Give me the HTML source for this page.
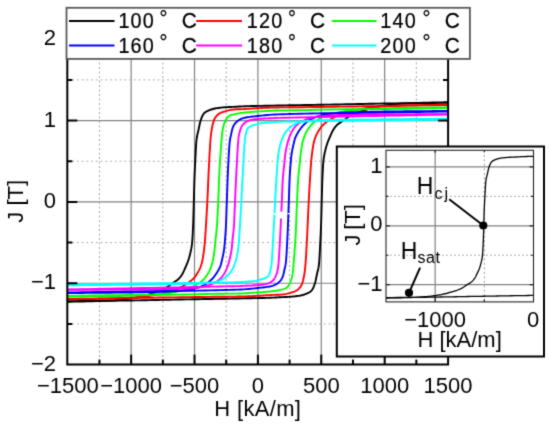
<!DOCTYPE html>
<html><head><meta charset="utf-8"><title>J-H hysteresis loops</title>
<style>html,body{margin:0;padding:0;background:#fff;width:550px;height:427px;overflow:hidden}</style>
</head><body>
<svg width="550" height="427" viewBox="0 0 550 427" style="display:block">
<defs><filter id="soft" x="0" y="0" width="550" height="427" filterUnits="userSpaceOnUse" color-interpolation-filters="sRGB"><feConvolveMatrix order="3" kernelMatrix="0.01917 0.10012 0.01917 0.10012 0.52283 0.10012 0.01917 0.10012 0.01917" edgeMode="duplicate"/></filter></defs>
<g filter="url(#soft)">
<rect x="0" y="0" width="550" height="427" fill="#fff"/>
<defs><clipPath id="cm"><rect x="67.3" y="40" width="380.8" height="324.5"/></clipPath><clipPath id="ci"><rect x="386" y="150.3" width="147.5" height="151.6"/></clipPath></defs>
<line x1="131.15" y1="40" x2="131.15" y2="364.5" stroke="#828282" stroke-width="1.2"/><line x1="194.52" y1="40" x2="194.52" y2="364.5" stroke="#828282" stroke-width="1.2"/><line x1="257.90" y1="40" x2="257.90" y2="364.5" stroke="#828282" stroke-width="1.2"/><line x1="321.27" y1="40" x2="321.27" y2="364.5" stroke="#828282" stroke-width="1.2"/><line x1="384.65" y1="40" x2="384.65" y2="364.5" stroke="#828282" stroke-width="1.2"/><line x1="67.3" y1="283.25" x2="448.1" y2="283.25" stroke="#828282" stroke-width="1.2"/><line x1="67.3" y1="201.90" x2="448.1" y2="201.90" stroke="#828282" stroke-width="1.2"/><line x1="67.3" y1="120.55" x2="448.1" y2="120.55" stroke="#828282" stroke-width="1.2"/><line x1="99.46" y1="40" x2="99.46" y2="364.5" stroke="#a8a8a8" stroke-width="1" stroke-dasharray="2,2.5"/><line x1="162.84" y1="40" x2="162.84" y2="364.5" stroke="#a8a8a8" stroke-width="1" stroke-dasharray="2,2.5"/><line x1="226.21" y1="40" x2="226.21" y2="364.5" stroke="#a8a8a8" stroke-width="1" stroke-dasharray="2,2.5"/><line x1="289.59" y1="40" x2="289.59" y2="364.5" stroke="#a8a8a8" stroke-width="1" stroke-dasharray="2,2.5"/><line x1="352.96" y1="40" x2="352.96" y2="364.5" stroke="#a8a8a8" stroke-width="1" stroke-dasharray="2,2.5"/><line x1="416.34" y1="40" x2="416.34" y2="364.5" stroke="#a8a8a8" stroke-width="1" stroke-dasharray="2,2.5"/><line x1="67.3" y1="323.93" x2="448.1" y2="323.93" stroke="#b0b0b0" stroke-width="1" stroke-dasharray="2,2.75"/><line x1="67.3" y1="242.57" x2="448.1" y2="242.57" stroke="#b0b0b0" stroke-width="1" stroke-dasharray="2,2.75"/><line x1="67.3" y1="161.23" x2="448.1" y2="161.23" stroke="#b0b0b0" stroke-width="1" stroke-dasharray="2,2.75"/><line x1="67.3" y1="79.88" x2="448.1" y2="79.88" stroke="#b0b0b0" stroke-width="1" stroke-dasharray="2,2.75"/>
<g clip-path="url(#cm)" fill="none" stroke-width="1.9" stroke-linejoin="round">
<polyline stroke="#000000" points="448.40,102.80 444.47,102.84 439.04,102.89 432.55,102.96 425.45,103.03 418.20,103.11 411.24,103.18 405.02,103.24 400.00,103.30 396.21,103.35 393.24,103.38 390.86,103.41 388.85,103.44 386.98,103.47 385.04,103.51 382.78,103.55 380.00,103.60 376.74,103.66 373.25,103.73 369.57,103.80 365.75,103.88 361.84,103.96 357.88,104.04 353.91,104.12 350.00,104.20 346.07,104.28 342.05,104.35 337.97,104.43 333.88,104.51 329.79,104.58 325.77,104.66 321.82,104.73 318.00,104.80 314.34,104.87 310.81,104.93 307.38,104.99 304.00,105.05 300.62,105.11 297.19,105.17 293.66,105.23 290.00,105.30 286.05,105.37 281.81,105.45 277.41,105.53 273.00,105.61 268.71,105.69 264.69,105.77 261.07,105.84 258.00,105.90 255.54,105.95 253.57,105.99 251.99,106.02 250.69,106.05 249.55,106.08 248.46,106.11 247.32,106.15 246.00,106.20 244.57,106.26 243.16,106.33 241.76,106.41 240.38,106.49 239.01,106.57 237.66,106.65 236.32,106.73 235.00,106.80 233.70,106.86 232.43,106.92 231.18,106.96 229.94,107.01 228.71,107.07 227.48,107.13 226.24,107.20 225.00,107.30 223.73,107.41 222.43,107.53 221.12,107.65 219.81,107.79 218.53,107.94 217.29,108.11 216.11,108.29 215.00,108.50 213.96,108.73 212.98,108.98 212.05,109.24 211.16,109.52 210.31,109.82 209.50,110.14 208.73,110.46 208.00,110.80 207.31,111.13 206.66,111.45 206.06,111.77 205.50,112.11 204.97,112.48 204.46,112.91 203.97,113.41 203.50,114.00 203.05,114.68 202.62,115.44 202.22,116.26 201.84,117.14 201.49,118.06 201.14,119.02 200.82,120.00 200.50,121.00 200.20,122.02 199.93,123.09 199.68,124.18 199.44,125.31 199.21,126.46 198.98,127.63 198.74,128.81 198.50,130.00 198.24,131.13 197.98,132.20 197.71,133.24 197.45,134.31 197.19,135.47 196.94,136.77 196.71,138.26 196.50,140.00 196.31,142.02 196.14,144.30 195.98,146.77 195.83,149.38 195.69,152.06 195.56,154.77 195.43,157.43 195.30,160.00 195.17,162.49 195.05,164.95 194.93,167.41 194.81,169.88 194.70,172.35 194.60,174.86 194.50,177.40 194.40,180.00 194.31,182.68 194.23,185.45 194.15,188.28 194.07,191.12 194.00,193.96 193.94,196.73 193.87,199.43 193.80,202.00 193.73,204.48 193.67,206.92 193.61,209.31 193.54,211.62 193.48,213.87 193.42,216.02 193.36,218.06 193.30,220.00 193.24,221.79 193.18,223.45 193.12,224.98 193.06,226.44 193.00,227.84 192.94,229.21 192.87,230.59 192.80,232.00 192.72,233.45 192.65,234.91 192.57,236.37 192.49,237.81 192.40,239.21 192.31,240.55 192.21,241.82 192.10,243.00 191.98,244.07 191.86,245.05 191.73,245.96 191.59,246.81 191.45,247.62 191.31,248.41 191.15,249.20 191.00,250.00 190.84,250.80 190.68,251.58 190.51,252.35 190.34,253.09 190.16,253.83 189.98,254.56 189.79,255.28 189.60,256.00 189.41,256.71 189.21,257.41 189.01,258.10 188.81,258.78 188.59,259.46 188.37,260.14 188.14,260.82 187.90,261.50 187.65,262.18 187.38,262.85 187.11,263.52 186.83,264.19 186.54,264.86 186.24,265.55 185.93,266.26 185.60,267.00 185.27,267.77 184.92,268.58 184.57,269.41 184.21,270.25 183.84,271.09 183.44,271.92 183.03,272.73 182.60,273.50 182.16,274.24 181.71,274.97 181.25,275.68 180.77,276.38 180.26,277.05 179.72,277.72 179.13,278.37 178.50,279.00 177.79,279.62 176.99,280.23 176.13,280.83 175.24,281.41 174.36,281.97 173.51,282.50 172.71,283.02 172.00,283.50 171.39,283.95 170.85,284.36 170.36,284.73 169.91,285.09 169.46,285.44 169.01,285.79 168.53,286.14 168.00,286.50 167.44,286.88 166.89,287.25 166.33,287.62 165.75,288.00 165.14,288.38 164.48,288.75 163.78,289.12 163.00,289.50 162.16,289.88 161.26,290.25 160.31,290.62 159.31,291.00 158.28,291.38 157.21,291.75 156.12,292.12 155.00,292.50 153.85,292.88 152.64,293.27 151.40,293.66 150.12,294.04 148.84,294.43 147.55,294.80 146.26,295.16 145.00,295.50 143.78,295.82 142.62,296.13 141.47,296.43 140.31,296.71 139.12,296.99 137.85,297.26 136.49,297.53 135.00,297.80 133.40,298.07 131.72,298.34 129.96,298.61 128.12,298.87 126.21,299.12 124.22,299.36 122.15,299.59 120.00,299.80 117.82,299.99 115.64,300.17 113.41,300.33 111.09,300.48 108.63,300.61 105.99,300.75 103.13,300.87 100.00,301.00 96.32,301.12 92.01,301.25 87.33,301.36 82.55,301.48 77.92,301.58 73.71,301.67 70.18,301.74 67.60,301.80"/>
<polyline stroke="#000000" points="67.10,301.20 71.03,301.16 76.46,301.11 82.95,301.04 90.05,300.97 97.30,300.89 104.26,300.82 110.48,300.76 115.50,300.70 119.29,300.65 122.26,300.62 124.64,300.59 126.65,300.56 128.52,300.53 130.46,300.49 132.72,300.45 135.50,300.40 138.76,300.34 142.25,300.27 145.93,300.20 149.75,300.12 153.66,300.04 157.62,299.96 161.59,299.88 165.50,299.80 169.43,299.72 173.45,299.65 177.53,299.57 181.62,299.49 185.71,299.42 189.73,299.34 193.68,299.27 197.50,299.20 201.16,299.13 204.69,299.07 208.12,299.01 211.50,298.95 214.88,298.89 218.31,298.83 221.84,298.77 225.50,298.70 229.45,298.63 233.69,298.55 238.09,298.47 242.50,298.39 246.79,298.31 250.81,298.23 254.43,298.16 257.50,298.10 259.96,298.05 261.93,298.01 263.51,297.98 264.81,297.95 265.95,297.92 267.04,297.89 268.18,297.85 269.50,297.80 270.93,297.74 272.34,297.67 273.74,297.59 275.12,297.51 276.49,297.43 277.84,297.35 279.18,297.27 280.50,297.20 281.80,297.14 283.07,297.08 284.32,297.04 285.56,296.99 286.79,296.93 288.02,296.87 289.26,296.80 290.50,296.70 291.77,296.59 293.07,296.48 294.38,296.35 295.69,296.21 296.97,296.06 298.21,295.89 299.39,295.71 300.50,295.50 301.54,295.27 302.52,295.02 303.45,294.76 304.34,294.48 305.19,294.18 306.00,293.86 306.77,293.54 307.50,293.20 308.19,292.87 308.84,292.55 309.44,292.23 310.00,291.89 310.53,291.52 311.04,291.09 311.53,290.59 312.00,290.00 312.45,289.32 312.88,288.56 313.28,287.74 313.66,286.86 314.01,285.94 314.36,284.98 314.68,284.00 315.00,283.00 315.30,281.98 315.57,280.91 315.82,279.82 316.06,278.69 316.29,277.54 316.52,276.37 316.76,275.19 317.00,274.00 317.26,272.87 317.52,271.80 317.79,270.76 318.05,269.69 318.31,268.53 318.56,267.23 318.79,265.74 319.00,264.00 319.19,261.98 319.36,259.70 319.52,257.23 319.67,254.62 319.81,251.94 319.94,249.23 320.07,246.57 320.20,244.00 320.33,241.51 320.45,239.05 320.57,236.59 320.69,234.12 320.80,231.65 320.90,229.14 321.00,226.60 321.10,224.00 321.19,221.32 321.27,218.55 321.35,215.72 321.43,212.88 321.50,210.04 321.56,207.27 321.63,204.57 321.70,202.00 321.77,199.52 321.83,197.08 321.89,194.69 321.96,192.38 322.02,190.13 322.08,187.98 322.14,185.94 322.20,184.00 322.26,182.21 322.32,180.55 322.38,179.02 322.44,177.56 322.50,176.16 322.56,174.79 322.63,173.41 322.70,172.00 322.78,170.55 322.85,169.09 322.93,167.63 323.01,166.19 323.10,164.79 323.19,163.45 323.29,162.18 323.40,161.00 323.52,159.93 323.64,158.95 323.77,158.04 323.91,157.19 324.05,156.38 324.19,155.59 324.35,154.80 324.50,154.00 324.66,153.20 324.82,152.42 324.99,151.65 325.16,150.91 325.34,150.17 325.52,149.44 325.71,148.72 325.90,148.00 326.09,147.29 326.29,146.59 326.49,145.90 326.69,145.22 326.91,144.54 327.13,143.86 327.36,143.18 327.60,142.50 327.85,141.82 328.12,141.15 328.39,140.48 328.67,139.81 328.96,139.14 329.26,138.45 329.57,137.74 329.90,137.00 330.23,136.23 330.58,135.42 330.93,134.59 331.29,133.75 331.66,132.91 332.06,132.08 332.47,131.27 332.90,130.50 333.34,129.76 333.79,129.03 334.25,128.32 334.73,127.62 335.24,126.95 335.78,126.28 336.37,125.63 337.00,125.00 337.71,124.38 338.51,123.77 339.37,123.17 340.26,122.59 341.14,122.03 341.99,121.50 342.79,120.98 343.50,120.50 344.11,120.05 344.65,119.64 345.14,119.27 345.59,118.91 346.04,118.56 346.49,118.21 346.97,117.86 347.50,117.50 348.06,117.12 348.61,116.75 349.17,116.38 349.75,116.00 350.36,115.62 351.02,115.25 351.72,114.88 352.50,114.50 353.34,114.12 354.24,113.75 355.19,113.38 356.19,113.00 357.22,112.62 358.29,112.25 359.38,111.88 360.50,111.50 361.65,111.12 362.86,110.73 364.10,110.34 365.38,109.96 366.66,109.57 367.95,109.20 369.24,108.84 370.50,108.50 371.72,108.18 372.88,107.87 374.03,107.57 375.19,107.29 376.38,107.01 377.65,106.74 379.01,106.47 380.50,106.20 382.10,105.93 383.78,105.66 385.54,105.39 387.38,105.13 389.29,104.88 391.28,104.64 393.35,104.41 395.50,104.20 397.68,104.01 399.86,103.83 402.09,103.67 404.41,103.52 406.87,103.39 409.51,103.25 412.37,103.13 415.50,103.00 419.18,102.88 423.49,102.75 428.17,102.64 432.95,102.52 437.58,102.42 441.79,102.33 445.32,102.26 447.90,102.20"/>
<polyline stroke="#ff0000" points="448.40,105.00 442.84,105.08 435.14,105.19 425.94,105.32 415.89,105.47 405.62,105.62 395.79,105.76 387.04,105.89 380.00,106.00 374.81,106.09 370.90,106.16 367.90,106.22 365.41,106.27 363.06,106.32 360.47,106.37 357.24,106.43 353.00,106.50 347.61,106.58 341.38,106.67 334.58,106.77 327.50,106.86 320.42,106.96 313.62,107.05 307.39,107.13 302.00,107.20 297.41,107.25 293.33,107.29 289.68,107.32 286.38,107.35 283.34,107.38 280.48,107.41 277.73,107.45 275.00,107.50 272.37,107.57 269.95,107.64 267.72,107.73 265.62,107.82 263.64,107.91 261.73,108.01 259.87,108.10 258.00,108.20 256.18,108.30 254.45,108.40 252.79,108.50 251.19,108.61 249.63,108.71 248.09,108.81 246.55,108.91 245.00,109.00 243.42,109.08 241.84,109.14 240.25,109.19 238.69,109.24 237.16,109.30 235.70,109.38 234.30,109.47 233.00,109.60 231.79,109.75 230.67,109.93 229.62,110.12 228.62,110.33 227.68,110.56 226.77,110.79 225.88,111.04 225.00,111.30 224.14,111.56 223.32,111.81 222.54,112.06 221.78,112.33 221.05,112.63 220.35,112.97 219.66,113.35 219.00,113.80 218.35,114.29 217.72,114.82 217.11,115.39 216.53,115.99 215.98,116.65 215.45,117.37 214.96,118.15 214.50,119.00 214.08,119.92 213.71,120.91 213.37,121.96 213.06,123.08 212.78,124.24 212.51,125.45 212.25,126.71 212.00,128.00 211.76,129.27 211.55,130.48 211.36,131.71 211.19,133.00 211.02,134.42 210.85,136.02 210.68,137.86 210.50,140.00 210.31,142.42 210.13,145.05 209.95,147.90 209.76,150.94 209.58,154.17 209.39,157.60 209.20,161.21 209.00,165.00 208.79,169.15 208.58,173.73 208.36,178.61 208.14,183.62 207.92,188.62 207.70,193.45 207.49,197.96 207.30,202.00 207.12,205.60 206.94,208.92 206.77,212.00 206.61,214.88 206.45,217.58 206.29,220.14 206.15,222.60 206.00,225.00 205.86,227.29 205.73,229.43 205.60,231.43 205.48,233.31 205.36,235.09 205.24,236.79 205.12,238.42 205.00,240.00 204.88,241.49 204.76,242.85 204.65,244.12 204.53,245.31 204.41,246.47 204.29,247.62 204.15,248.78 204.00,250.00 203.84,251.27 203.67,252.57 203.50,253.88 203.31,255.19 203.12,256.47 202.92,257.71 202.71,258.89 202.50,260.00 202.28,261.03 202.06,261.98 201.83,262.89 201.59,263.75 201.35,264.58 201.08,265.39 200.80,266.19 200.50,267.00 200.18,267.80 199.83,268.59 199.47,269.37 199.09,270.12 198.71,270.87 198.31,271.59 197.91,272.30 197.50,273.00 197.09,273.68 196.67,274.36 196.25,275.01 195.81,275.66 195.37,276.28 194.92,276.88 194.46,277.45 194.00,278.00 193.53,278.51 193.06,278.98 192.58,279.42 192.09,279.84 191.60,280.25 191.08,280.66 190.55,281.07 190.00,281.50 189.44,281.94 188.87,282.38 188.29,282.81 187.69,283.25 187.07,283.69 186.41,284.12 185.73,284.56 185.00,285.00 184.23,285.44 183.41,285.89 182.57,286.33 181.69,286.78 180.79,287.22 179.87,287.66 178.94,288.09 178.00,288.50 177.06,288.90 176.12,289.30 175.16,289.68 174.19,290.06 173.19,290.43 172.16,290.80 171.10,291.15 170.00,291.50 168.88,291.84 167.76,292.16 166.62,292.47 165.44,292.78 164.20,293.08 162.90,293.39 161.50,293.69 160.00,294.00 158.40,294.32 156.72,294.65 154.96,294.98 153.12,295.31 151.21,295.64 149.22,295.95 147.15,296.24 145.00,296.50 142.77,296.74 140.47,296.96 138.09,297.17 135.62,297.36 133.09,297.53 130.47,297.70 127.77,297.85 125.00,298.00 122.16,298.14 119.28,298.26 116.32,298.36 113.27,298.46 110.14,298.55 106.89,298.64 103.51,298.72 100.00,298.80 96.08,298.88 91.66,298.96 86.97,299.03 82.24,299.10 77.70,299.16 73.60,299.22 70.15,299.26 67.60,299.30"/>
<polyline stroke="#ff0000" points="67.60,299.00 73.16,298.92 80.86,298.81 90.06,298.68 100.11,298.53 110.38,298.38 120.21,298.24 128.96,298.11 136.00,298.00 141.19,297.91 145.10,297.84 148.10,297.78 150.59,297.73 152.94,297.68 155.53,297.63 158.76,297.57 163.00,297.50 168.39,297.42 174.62,297.33 181.42,297.23 188.50,297.14 195.58,297.04 202.38,296.95 208.61,296.87 214.00,296.80 218.59,296.75 222.67,296.71 226.32,296.68 229.62,296.65 232.66,296.62 235.52,296.59 238.27,296.55 241.00,296.50 243.63,296.43 246.05,296.36 248.28,296.27 250.38,296.18 252.36,296.09 254.27,295.99 256.13,295.90 258.00,295.80 259.82,295.70 261.55,295.60 263.21,295.50 264.81,295.39 266.37,295.29 267.91,295.19 269.45,295.09 271.00,295.00 272.58,294.92 274.16,294.86 275.75,294.81 277.31,294.76 278.84,294.70 280.30,294.62 281.70,294.53 283.00,294.40 284.21,294.25 285.33,294.07 286.38,293.88 287.38,293.67 288.32,293.44 289.23,293.21 290.12,292.96 291.00,292.70 291.86,292.44 292.68,292.19 293.46,291.94 294.22,291.67 294.95,291.37 295.65,291.03 296.34,290.65 297.00,290.20 297.65,289.71 298.28,289.18 298.89,288.61 299.47,288.01 300.02,287.35 300.55,286.63 301.04,285.85 301.50,285.00 301.92,284.08 302.29,283.09 302.63,282.04 302.94,280.93 303.22,279.76 303.49,278.55 303.75,277.29 304.00,276.00 304.24,274.73 304.45,273.52 304.64,272.29 304.81,271.00 304.98,269.58 305.15,267.98 305.32,266.14 305.50,264.00 305.69,261.58 305.87,258.95 306.05,256.10 306.24,253.06 306.42,249.83 306.61,246.40 306.80,242.79 307.00,239.00 307.21,234.85 307.42,230.27 307.64,225.39 307.86,220.38 308.08,215.38 308.30,210.55 308.51,206.04 308.70,202.00 308.88,198.40 309.06,195.08 309.23,192.00 309.39,189.12 309.55,186.42 309.71,183.86 309.85,181.40 310.00,179.00 310.14,176.71 310.27,174.57 310.40,172.57 310.52,170.69 310.64,168.91 310.76,167.21 310.88,165.58 311.00,164.00 311.12,162.51 311.24,161.15 311.35,159.88 311.47,158.69 311.59,157.53 311.71,156.38 311.85,155.22 312.00,154.00 312.16,152.73 312.33,151.43 312.50,150.12 312.69,148.81 312.88,147.53 313.08,146.29 313.29,145.11 313.50,144.00 313.72,142.97 313.94,142.02 314.17,141.11 314.41,140.25 314.65,139.42 314.92,138.61 315.20,137.81 315.50,137.00 315.82,136.20 316.17,135.41 316.53,134.63 316.91,133.88 317.29,133.13 317.69,132.41 318.09,131.70 318.50,131.00 318.91,130.32 319.33,129.64 319.75,128.99 320.19,128.34 320.63,127.72 321.08,127.12 321.54,126.55 322.00,126.00 322.47,125.49 322.94,125.02 323.42,124.58 323.91,124.16 324.40,123.75 324.92,123.34 325.45,122.93 326.00,122.50 326.56,122.06 327.13,121.62 327.71,121.19 328.31,120.75 328.93,120.31 329.59,119.88 330.27,119.44 331.00,119.00 331.77,118.56 332.59,118.11 333.43,117.67 334.31,117.22 335.21,116.78 336.13,116.34 337.06,115.91 338.00,115.50 338.94,115.10 339.88,114.70 340.84,114.32 341.81,113.94 342.81,113.57 343.84,113.20 344.90,112.85 346.00,112.50 347.12,112.16 348.24,111.84 349.38,111.53 350.56,111.22 351.80,110.92 353.10,110.61 354.50,110.31 356.00,110.00 357.60,109.68 359.28,109.35 361.04,109.02 362.88,108.69 364.79,108.36 366.78,108.05 368.85,107.76 371.00,107.50 373.23,107.26 375.53,107.04 377.91,106.83 380.38,106.64 382.91,106.47 385.53,106.30 388.23,106.15 391.00,106.00 393.84,105.86 396.73,105.74 399.68,105.64 402.73,105.54 405.86,105.45 409.11,105.36 412.49,105.28 416.00,105.20 419.92,105.12 424.34,105.04 429.03,104.97 433.76,104.90 438.30,104.84 442.40,104.78 445.85,104.74 448.40,104.70"/>
<polyline stroke="#00ff00" points="448.40,108.00 444.71,108.06 439.86,108.15 434.08,108.25 427.64,108.37 420.76,108.49 413.70,108.60 406.70,108.71 400.00,108.80 393.43,108.87 386.67,108.93 379.77,108.99 372.79,109.04 365.77,109.09 358.76,109.15 351.82,109.22 345.00,109.30 338.03,109.41 330.77,109.53 323.40,109.67 316.12,109.82 309.15,109.96 302.67,110.09 296.89,110.21 292.00,110.30 288.15,110.36 285.22,110.39 282.99,110.40 281.25,110.40 279.79,110.40 278.41,110.41 276.88,110.44 275.00,110.50 272.85,110.59 270.66,110.69 268.45,110.82 266.25,110.95 264.08,111.09 261.97,111.23 259.93,111.37 258.00,111.50 256.14,111.62 254.33,111.75 252.57,111.88 250.88,112.00 249.26,112.12 247.73,112.25 246.31,112.38 245.00,112.50 243.84,112.62 242.85,112.73 241.98,112.83 241.19,112.94 240.43,113.05 239.68,113.18 238.88,113.33 238.00,113.50 237.02,113.69 235.98,113.88 234.90,114.09 233.81,114.31 232.75,114.56 231.74,114.84 230.82,115.15 230.00,115.50 229.30,115.87 228.70,116.25 228.16,116.66 227.69,117.09 227.25,117.58 226.84,118.14 226.42,118.77 226.00,119.50 225.57,120.32 225.14,121.20 224.74,122.16 224.34,123.19 223.97,124.29 223.62,125.45 223.30,126.69 223.00,128.00 222.74,129.30 222.53,130.56 222.35,131.84 222.19,133.22 222.03,134.76 221.88,136.52 221.70,138.58 221.50,141.00 221.27,143.84 221.02,147.05 220.76,150.57 220.49,154.31 220.22,158.20 219.96,162.16 219.72,166.12 219.50,170.00 219.30,173.92 219.12,178.00 218.96,182.18 218.80,186.38 218.65,190.53 218.50,194.56 218.35,198.41 218.20,202.00 218.05,205.36 217.90,208.57 217.76,211.64 217.61,214.56 217.47,217.36 217.32,220.02 217.16,222.57 217.00,225.00 216.82,227.29 216.63,229.43 216.44,231.43 216.24,233.31 216.04,235.09 215.85,236.79 215.67,238.42 215.50,240.00 215.35,241.49 215.23,242.85 215.11,244.12 215.00,245.31 214.89,246.47 214.77,247.62 214.65,248.78 214.50,250.00 214.34,251.27 214.17,252.57 214.00,253.88 213.81,255.19 213.62,256.47 213.42,257.71 213.21,258.89 213.00,260.00 212.78,261.02 212.56,261.97 212.33,262.87 212.09,263.72 211.85,264.54 211.58,265.36 211.30,266.17 211.00,267.00 210.69,267.84 210.37,268.66 210.04,269.47 209.69,270.28 209.32,271.08 208.91,271.89 208.48,272.69 208.00,273.50 207.48,274.33 206.91,275.17 206.32,276.03 205.69,276.88 205.04,277.71 204.37,278.52 203.69,279.28 203.00,280.00 202.30,280.67 201.59,281.29 200.87,281.88 200.12,282.44 199.37,282.97 198.59,283.49 197.80,284.00 197.00,284.50 196.19,284.99 195.39,285.46 194.58,285.91 193.75,286.34 192.89,286.77 191.98,287.18 191.03,287.59 190.00,288.00 188.93,288.40 187.83,288.80 186.69,289.18 185.50,289.56 184.25,289.93 182.92,290.30 181.51,290.65 180.00,291.00 178.40,291.34 176.72,291.68 174.96,292.02 173.12,292.34 171.21,292.66 169.22,292.96 167.15,293.24 165.00,293.50 162.77,293.74 160.47,293.96 158.09,294.16 155.62,294.34 153.09,294.52 150.47,294.68 147.77,294.84 145.00,295.00 142.30,295.15 139.74,295.29 137.20,295.42 134.53,295.55 131.60,295.67 128.29,295.78 124.47,295.89 120.00,296.00 114.40,296.11 107.60,296.21 100.05,296.32 92.24,296.41 84.62,296.50 77.66,296.58 71.83,296.65 67.60,296.70"/>
<polyline stroke="#00ff00" points="66.80,296.00 70.49,295.94 75.34,295.85 81.12,295.75 87.56,295.63 94.44,295.51 101.50,295.40 108.50,295.29 115.20,295.20 121.77,295.13 128.53,295.07 135.43,295.01 142.41,294.96 149.43,294.91 156.44,294.85 163.38,294.78 170.20,294.70 177.17,294.59 184.43,294.47 191.80,294.33 199.08,294.18 206.05,294.04 212.53,293.91 218.31,293.79 223.20,293.70 227.05,293.64 229.98,293.61 232.21,293.60 233.95,293.60 235.41,293.60 236.79,293.59 238.32,293.56 240.20,293.50 242.35,293.41 244.54,293.31 246.75,293.18 248.95,293.05 251.12,292.91 253.23,292.77 255.27,292.63 257.20,292.50 259.06,292.38 260.87,292.25 262.63,292.12 264.33,292.00 265.94,291.88 267.47,291.75 268.89,291.62 270.20,291.50 271.36,291.38 272.35,291.27 273.22,291.17 274.01,291.06 274.77,290.95 275.52,290.82 276.32,290.67 277.20,290.50 278.18,290.31 279.22,290.12 280.30,289.91 281.39,289.69 282.45,289.44 283.46,289.16 284.38,288.85 285.20,288.50 285.90,288.13 286.50,287.75 287.04,287.34 287.51,286.91 287.95,286.42 288.36,285.86 288.78,285.23 289.20,284.50 289.63,283.68 290.06,282.80 290.46,281.84 290.86,280.81 291.23,279.71 291.58,278.55 291.90,277.31 292.20,276.00 292.46,274.70 292.67,273.44 292.85,272.16 293.01,270.78 293.17,269.24 293.33,267.48 293.50,265.42 293.70,263.00 293.93,260.16 294.18,256.95 294.44,253.43 294.71,249.69 294.98,245.80 295.24,241.84 295.48,237.88 295.70,234.00 295.90,230.08 296.08,226.00 296.24,221.82 296.40,217.62 296.55,213.47 296.70,209.44 296.85,205.59 297.00,202.00 297.15,198.64 297.30,195.43 297.44,192.36 297.59,189.44 297.73,186.64 297.88,183.98 298.04,181.43 298.20,179.00 298.38,176.71 298.57,174.57 298.76,172.57 298.96,170.69 299.16,168.91 299.35,167.21 299.53,165.58 299.70,164.00 299.85,162.51 299.97,161.15 300.09,159.88 300.20,158.69 300.31,157.53 300.43,156.38 300.55,155.22 300.70,154.00 300.86,152.73 301.03,151.43 301.20,150.12 301.39,148.81 301.58,147.53 301.78,146.29 301.99,145.11 302.20,144.00 302.42,142.98 302.64,142.03 302.87,141.13 303.11,140.28 303.35,139.46 303.62,138.64 303.90,137.83 304.20,137.00 304.51,136.16 304.83,135.34 305.16,134.53 305.51,133.72 305.88,132.92 306.29,132.11 306.72,131.31 307.20,130.50 307.72,129.67 308.29,128.83 308.88,127.97 309.51,127.12 310.16,126.29 310.83,125.48 311.51,124.72 312.20,124.00 312.90,123.33 313.61,122.71 314.33,122.12 315.08,121.56 315.83,121.03 316.61,120.51 317.40,120.00 318.20,119.50 319.01,119.01 319.81,118.54 320.62,118.09 321.45,117.66 322.31,117.23 323.22,116.82 324.17,116.41 325.20,116.00 326.27,115.60 327.37,115.20 328.51,114.82 329.70,114.44 330.95,114.07 332.28,113.70 333.69,113.35 335.20,113.00 336.80,112.66 338.48,112.32 340.24,111.98 342.08,111.66 343.99,111.34 345.98,111.04 348.05,110.76 350.20,110.50 352.43,110.26 354.73,110.04 357.11,109.84 359.58,109.66 362.11,109.48 364.73,109.32 367.43,109.16 370.20,109.00 372.90,108.85 375.46,108.71 378.00,108.58 380.68,108.45 383.60,108.33 386.91,108.22 390.73,108.11 395.20,108.00 400.80,107.89 407.60,107.79 415.15,107.68 422.96,107.59 430.58,107.50 437.54,107.42 443.37,107.35 447.60,107.30"/>
<polyline stroke="#0000ff" points="448.40,111.50 444.54,111.56 439.27,111.65 432.99,111.75 426.07,111.87 418.93,111.99 411.94,112.10 405.50,112.21 400.00,112.30 395.57,112.38 391.89,112.44 388.68,112.50 385.66,112.56 382.57,112.61 379.11,112.67 375.01,112.73 370.00,112.80 363.86,112.88 356.75,112.95 348.99,113.03 340.88,113.12 332.71,113.21 324.81,113.30 317.47,113.40 311.00,113.50 305.27,113.61 299.94,113.72 294.98,113.83 290.38,113.95 286.10,114.08 282.12,114.21 278.43,114.35 275.00,114.50 271.93,114.66 269.30,114.84 267.01,115.03 265.00,115.22 263.17,115.42 261.45,115.61 259.76,115.81 258.00,116.00 256.22,116.18 254.51,116.36 252.87,116.54 251.31,116.72 249.84,116.90 248.46,117.09 247.18,117.29 246.00,117.50 244.95,117.72 244.03,117.94 243.22,118.17 242.50,118.41 241.84,118.65 241.22,118.92 240.61,119.20 240.00,119.50 239.40,119.82 238.84,120.14 238.31,120.49 237.81,120.84 237.34,121.22 236.88,121.62 236.44,122.05 236.00,122.50 235.57,122.97 235.16,123.44 234.76,123.92 234.38,124.44 234.01,124.99 233.66,125.59 233.32,126.26 233.00,127.00 232.70,127.83 232.42,128.73 232.15,129.70 231.91,130.72 231.67,131.77 231.44,132.85 231.22,133.93 231.00,135.00 230.79,135.96 230.59,136.78 230.40,137.55 230.22,138.38 230.04,139.34 229.86,140.53 229.68,142.05 229.50,144.00 229.31,146.40 229.12,149.16 228.92,152.24 228.73,155.56 228.54,159.06 228.35,162.68 228.17,166.35 228.00,170.00 227.83,173.77 227.67,177.79 227.51,181.96 227.36,186.19 227.21,190.40 227.06,194.49 226.93,198.39 226.80,202.00 226.68,205.36 226.58,208.57 226.48,211.64 226.39,214.56 226.30,217.36 226.20,220.02 226.11,222.57 226.00,225.00 225.88,227.29 225.76,229.43 225.64,231.43 225.51,233.31 225.38,235.09 225.25,236.79 225.13,238.42 225.00,240.00 224.88,241.49 224.77,242.85 224.67,244.12 224.56,245.31 224.45,246.47 224.32,247.62 224.17,248.78 224.00,250.00 223.80,251.27 223.57,252.57 223.32,253.88 223.06,255.19 222.79,256.47 222.52,257.71 222.26,258.89 222.00,260.00 221.76,261.02 221.55,261.96 221.34,262.84 221.12,263.69 220.90,264.51 220.64,265.32 220.35,266.15 220.00,267.00 219.60,267.89 219.14,268.80 218.65,269.71 218.12,270.62 217.59,271.52 217.05,272.39 216.51,273.22 216.00,274.00 215.51,274.72 215.05,275.39 214.59,276.02 214.12,276.62 213.65,277.21 213.14,277.80 212.60,278.39 212.00,279.00 211.36,279.64 210.69,280.29 209.98,280.94 209.25,281.59 208.48,282.23 207.69,282.86 206.86,283.45 206.00,284.00 205.11,284.52 204.19,285.00 203.23,285.47 202.25,285.91 201.23,286.33 200.19,286.73 199.11,287.12 198.00,287.50 196.90,287.87 195.83,288.22 194.75,288.55 193.62,288.88 192.42,289.18 191.11,289.47 189.65,289.74 188.00,290.00 186.21,290.24 184.34,290.46 182.36,290.67 180.25,290.86 177.98,291.03 175.53,291.20 172.88,291.35 170.00,291.50 166.89,291.64 163.58,291.76 160.07,291.86 156.38,291.96 152.51,292.05 148.48,292.14 144.31,292.22 140.00,292.30 135.43,292.38 130.52,292.45 125.40,292.52 120.15,292.59 114.88,292.65 109.70,292.70 104.70,292.75 100.00,292.80 95.36,292.84 90.61,292.88 85.87,292.91 81.30,292.93 77.04,292.95 73.24,292.97 70.05,292.99 67.60,293.00"/>
<polyline stroke="#0000ff" points="67.20,292.50 71.06,292.44 76.33,292.35 82.61,292.25 89.53,292.13 96.67,292.01 103.66,291.90 110.10,291.79 115.60,291.70 120.03,291.62 123.71,291.56 126.92,291.50 129.94,291.44 133.03,291.39 136.49,291.33 140.59,291.27 145.60,291.20 151.74,291.12 158.85,291.05 166.61,290.97 174.73,290.88 182.89,290.79 190.79,290.70 198.13,290.60 204.60,290.50 210.33,290.39 215.66,290.28 220.62,290.17 225.23,290.05 229.50,289.92 233.48,289.79 237.17,289.65 240.60,289.50 243.67,289.34 246.30,289.16 248.59,288.97 250.60,288.78 252.43,288.58 254.15,288.39 255.84,288.19 257.60,288.00 259.38,287.82 261.09,287.64 262.73,287.46 264.29,287.28 265.76,287.10 267.14,286.91 268.42,286.71 269.60,286.50 270.65,286.28 271.57,286.06 272.38,285.83 273.10,285.59 273.76,285.35 274.38,285.08 274.99,284.80 275.60,284.50 276.20,284.18 276.76,283.86 277.29,283.51 277.79,283.16 278.26,282.78 278.72,282.38 279.16,281.95 279.60,281.50 280.03,281.03 280.44,280.56 280.84,280.08 281.23,279.56 281.59,279.01 281.94,278.41 282.28,277.74 282.60,277.00 282.90,276.17 283.18,275.27 283.45,274.30 283.69,273.28 283.93,272.23 284.16,271.15 284.38,270.07 284.60,269.00 284.81,268.04 285.01,267.22 285.20,266.45 285.38,265.62 285.56,264.66 285.74,263.47 285.92,261.95 286.10,260.00 286.29,257.60 286.48,254.84 286.68,251.76 286.87,248.44 287.06,244.94 287.25,241.32 287.43,237.65 287.60,234.00 287.77,230.23 287.93,226.21 288.09,222.04 288.24,217.81 288.39,213.60 288.54,209.51 288.67,205.61 288.80,202.00 288.92,198.64 289.02,195.43 289.12,192.36 289.21,189.44 289.30,186.64 289.40,183.98 289.49,181.43 289.60,179.00 289.72,176.71 289.84,174.57 289.96,172.57 290.09,170.69 290.22,168.91 290.35,167.21 290.47,165.58 290.60,164.00 290.72,162.51 290.83,161.15 290.93,159.88 291.04,158.69 291.15,157.53 291.28,156.38 291.43,155.22 291.60,154.00 291.80,152.73 292.03,151.43 292.28,150.12 292.54,148.81 292.81,147.53 293.08,146.29 293.34,145.11 293.60,144.00 293.84,142.98 294.05,142.04 294.26,141.16 294.48,140.31 294.70,139.49 294.96,138.68 295.25,137.85 295.60,137.00 296.00,136.11 296.46,135.20 296.95,134.29 297.48,133.38 298.01,132.48 298.55,131.61 299.09,130.78 299.60,130.00 300.09,129.28 300.55,128.61 301.01,127.98 301.48,127.38 301.95,126.79 302.46,126.20 303.00,125.61 303.60,125.00 304.24,124.36 304.91,123.71 305.62,123.06 306.35,122.41 307.12,121.77 307.91,121.14 308.74,120.55 309.60,120.00 310.49,119.48 311.41,119.00 312.37,118.53 313.35,118.09 314.37,117.67 315.41,117.27 316.49,116.88 317.60,116.50 318.70,116.13 319.77,115.78 320.85,115.45 321.98,115.12 323.18,114.82 324.49,114.53 325.95,114.26 327.60,114.00 329.39,113.76 331.26,113.54 333.24,113.33 335.35,113.14 337.62,112.97 340.07,112.80 342.72,112.65 345.60,112.50 348.71,112.36 352.02,112.24 355.53,112.14 359.23,112.04 363.09,111.95 367.12,111.86 371.29,111.78 375.60,111.70 380.17,111.62 385.08,111.55 390.20,111.48 395.45,111.41 400.72,111.35 405.90,111.30 410.90,111.25 415.60,111.20 420.24,111.16 424.99,111.12 429.73,111.09 434.30,111.07 438.56,111.05 442.36,111.03 445.55,111.01 448.00,111.00"/>
<polyline stroke="#ff00ff" points="448.40,114.50 444.81,114.58 440.21,114.67 434.74,114.79 428.57,114.92 421.86,115.06 414.75,115.21 407.41,115.35 400.00,115.50 392.12,115.65 383.46,115.81 374.28,115.98 364.85,116.15 355.44,116.32 346.32,116.49 337.75,116.65 330.00,116.80 322.85,116.94 315.95,117.09 309.37,117.23 303.19,117.37 297.49,117.50 292.34,117.61 287.82,117.72 284.00,117.80 281.16,117.86 279.34,117.89 278.27,117.90 277.69,117.90 277.33,117.90 276.95,117.91 276.25,117.94 275.00,118.00 273.20,118.08 271.12,118.18 268.86,118.29 266.50,118.42 264.14,118.55 261.88,118.70 259.80,118.85 258.00,119.00 256.46,119.15 255.09,119.30 253.86,119.46 252.75,119.62 251.73,119.81 250.78,120.01 249.88,120.24 249.00,120.50 248.17,120.79 247.42,121.11 246.74,121.45 246.12,121.81 245.55,122.20 245.02,122.61 244.50,123.04 244.00,123.50 243.52,123.97 243.09,124.46 242.68,124.97 242.31,125.50 241.96,126.06 241.63,126.66 241.31,127.31 241.00,128.00 240.70,128.74 240.41,129.53 240.13,130.35 239.88,131.22 239.63,132.12 239.41,133.05 239.20,134.01 239.00,135.00 238.83,135.91 238.69,136.71 238.57,137.48 238.47,138.31 238.37,139.29 238.26,140.51 238.14,142.05 238.00,144.00 237.84,146.40 237.66,149.16 237.47,152.24 237.28,155.56 237.08,159.06 236.89,162.68 236.69,166.35 236.50,170.00 236.31,173.77 236.11,177.79 235.92,181.96 235.72,186.19 235.53,190.40 235.34,194.49 235.16,198.39 235.00,202.00 234.85,205.36 234.73,208.57 234.61,211.64 234.50,214.56 234.39,217.36 234.27,220.02 234.15,222.57 234.00,225.00 233.83,227.29 233.65,229.43 233.45,231.43 233.25,233.31 233.05,235.09 232.85,236.79 232.67,238.42 232.50,240.00 232.36,241.49 232.24,242.85 232.13,244.12 232.03,245.31 231.93,246.47 231.81,247.62 231.67,248.78 231.50,250.00 231.30,251.26 231.08,252.55 230.85,253.84 230.59,255.12 230.33,256.40 230.06,257.64 229.78,258.85 229.50,260.00 229.21,261.11 228.92,262.19 228.62,263.23 228.31,264.25 228.00,265.23 227.67,266.19 227.34,267.11 227.00,268.00 226.66,268.85 226.31,269.66 225.96,270.44 225.59,271.19 225.22,271.91 224.83,272.62 224.43,273.31 224.00,274.00 223.56,274.68 223.12,275.34 222.66,275.99 222.19,276.62 221.69,277.24 221.16,277.84 220.60,278.43 220.00,279.00 219.37,279.55 218.71,280.09 218.03,280.60 217.31,281.11 216.56,281.60 215.76,282.07 214.91,282.54 214.00,283.00 213.06,283.45 212.10,283.90 211.11,284.35 210.06,284.77 208.95,285.19 207.74,285.58 206.43,285.95 205.00,286.30 203.51,286.62 202.02,286.92 200.47,287.19 198.81,287.45 196.99,287.69 194.95,287.91 192.63,288.11 190.00,288.30 187.04,288.47 183.79,288.61 180.29,288.74 176.56,288.85 172.64,288.95 168.55,289.04 164.33,289.12 160.00,289.20 155.56,289.28 150.99,289.34 146.28,289.40 141.40,289.44 136.35,289.49 131.11,289.53 125.66,289.56 120.00,289.60 113.69,289.64 106.54,289.67 98.96,289.70 91.30,289.73 83.96,289.75 77.31,289.77 71.73,289.79 67.60,289.80"/>
<polyline stroke="#ff00ff" points="68.40,289.50 71.99,289.42 76.59,289.33 82.06,289.21 88.22,289.08 94.94,288.94 102.05,288.79 109.39,288.65 116.80,288.50 124.68,288.35 133.34,288.19 142.52,288.02 151.95,287.85 161.36,287.68 170.48,287.51 179.05,287.35 186.80,287.20 193.95,287.06 200.85,286.91 207.43,286.77 213.61,286.63 219.31,286.50 224.46,286.39 228.98,286.28 232.80,286.20 235.64,286.14 237.46,286.11 238.53,286.10 239.11,286.10 239.47,286.10 239.85,286.09 240.55,286.06 241.80,286.00 243.60,285.92 245.67,285.82 247.94,285.71 250.30,285.58 252.66,285.45 254.92,285.30 257.00,285.15 258.80,285.00 260.34,284.85 261.71,284.70 262.94,284.54 264.05,284.38 265.07,284.19 266.02,283.99 266.92,283.76 267.80,283.50 268.63,283.21 269.38,282.89 270.06,282.55 270.67,282.19 271.25,281.80 271.78,281.39 272.30,280.96 272.80,280.50 273.28,280.03 273.71,279.54 274.12,279.03 274.49,278.50 274.84,277.94 275.17,277.34 275.49,276.69 275.80,276.00 276.10,275.26 276.39,274.47 276.67,273.65 276.92,272.78 277.17,271.88 277.39,270.95 277.60,269.99 277.80,269.00 277.97,268.09 278.11,267.29 278.23,266.52 278.33,265.69 278.43,264.71 278.54,263.49 278.66,261.95 278.80,260.00 278.96,257.60 279.14,254.84 279.33,251.76 279.52,248.44 279.72,244.94 279.91,241.32 280.11,237.65 280.30,234.00 280.49,230.23 280.69,226.21 280.88,222.04 281.08,217.81 281.27,213.60 281.46,209.51 281.64,205.61 281.80,202.00 281.95,198.64 282.07,195.43 282.19,192.36 282.30,189.44 282.41,186.64 282.53,183.98 282.65,181.43 282.80,179.00 282.97,176.71 283.15,174.57 283.35,172.57 283.55,170.69 283.75,168.91 283.95,167.21 284.13,165.58 284.30,164.00 284.44,162.51 284.56,161.15 284.67,159.88 284.77,158.69 284.87,157.53 284.99,156.38 285.13,155.22 285.30,154.00 285.50,152.74 285.72,151.45 285.95,150.16 286.21,148.88 286.47,147.60 286.74,146.36 287.02,145.15 287.30,144.00 287.59,142.89 287.88,141.81 288.18,140.77 288.49,139.75 288.80,138.77 289.13,137.81 289.46,136.89 289.80,136.00 290.14,135.15 290.49,134.34 290.84,133.56 291.21,132.81 291.58,132.09 291.97,131.38 292.37,130.69 292.80,130.00 293.24,129.32 293.68,128.66 294.14,128.01 294.61,127.38 295.11,126.76 295.64,126.16 296.20,125.57 296.80,125.00 297.43,124.45 298.09,123.91 298.77,123.40 299.49,122.89 300.24,122.40 301.04,121.93 301.89,121.46 302.80,121.00 303.74,120.55 304.70,120.10 305.69,119.65 306.74,119.23 307.85,118.81 309.06,118.42 310.37,118.05 311.80,117.70 313.29,117.38 314.78,117.08 316.33,116.81 317.99,116.55 319.81,116.31 321.85,116.09 324.17,115.89 326.80,115.70 329.76,115.53 333.01,115.39 336.51,115.26 340.24,115.15 344.16,115.05 348.25,114.96 352.47,114.88 356.80,114.80 361.24,114.72 365.81,114.66 370.52,114.60 375.40,114.56 380.45,114.51 385.69,114.47 391.14,114.44 396.80,114.40 403.11,114.36 410.26,114.33 417.84,114.30 425.50,114.27 432.84,114.25 439.49,114.23 445.07,114.21 449.20,114.20"/>
<polyline stroke="#00ffff" points="448.40,119.50 444.83,119.55 440.28,119.62 434.88,119.71 428.76,119.80 422.08,119.90 414.96,120.00 407.56,120.10 400.00,120.20 391.81,120.30 382.64,120.40 372.84,120.51 362.79,120.61 352.82,120.72 343.30,120.82 334.57,120.91 327.00,121.00 320.50,121.08 314.70,121.15 309.52,121.21 304.88,121.27 300.68,121.33 296.86,121.38 293.33,121.44 290.00,121.50 287.06,121.56 284.66,121.61 282.68,121.67 281.00,121.72 279.51,121.78 278.09,121.84 276.63,121.91 275.00,122.00 273.23,122.10 271.45,122.20 269.67,122.32 267.94,122.44 266.27,122.57 264.71,122.70 263.28,122.85 262.00,123.00 260.91,123.16 259.98,123.34 259.19,123.53 258.50,123.72 257.87,123.92 257.27,124.11 256.65,124.31 256.00,124.50 255.32,124.68 254.64,124.84 253.99,125.00 253.34,125.16 252.72,125.33 252.12,125.52 251.55,125.74 251.00,126.00 250.48,126.28 249.98,126.55 249.51,126.84 249.06,127.16 248.64,127.52 248.23,127.93 247.86,128.42 247.50,129.00 247.17,129.68 246.87,130.45 246.60,131.29 246.34,132.19 246.11,133.13 245.89,134.09 245.69,135.05 245.50,136.00 245.33,136.83 245.19,137.51 245.07,138.14 244.97,138.81 244.87,139.64 244.76,140.71 244.64,142.13 244.50,144.00 244.34,146.35 244.16,149.09 243.98,152.17 243.79,155.50 243.60,159.02 243.40,162.66 243.20,166.34 243.00,170.00 242.79,173.77 242.58,177.79 242.36,181.96 242.14,186.19 241.92,190.40 241.70,194.49 241.49,198.39 241.30,202.00 241.12,205.36 240.94,208.57 240.77,211.64 240.61,214.56 240.45,217.36 240.29,220.02 240.15,222.57 240.00,225.00 239.86,227.29 239.73,229.43 239.60,231.43 239.48,233.31 239.36,235.09 239.24,236.79 239.12,238.42 239.00,240.00 238.88,241.49 238.77,242.85 238.67,244.12 238.56,245.31 238.45,246.47 238.32,247.62 238.17,248.78 238.00,250.00 237.80,251.26 237.59,252.55 237.37,253.84 237.12,255.12 236.87,256.40 236.59,257.64 236.30,258.85 236.00,260.00 235.68,261.11 235.34,262.19 234.99,263.23 234.62,264.25 234.24,265.23 233.84,266.19 233.43,267.11 233.00,268.00 232.56,268.85 232.12,269.66 231.66,270.44 231.19,271.19 230.69,271.91 230.16,272.62 229.60,273.31 229.00,274.00 228.36,274.69 227.69,275.37 226.98,276.04 226.25,276.69 225.48,277.32 224.69,277.91 223.86,278.48 223.00,279.00 222.14,279.48 221.30,279.93 220.45,280.34 219.56,280.72 218.60,281.07 217.54,281.40 216.35,281.71 215.00,282.00 213.56,282.26 212.09,282.50 210.55,282.70 208.88,282.89 207.03,283.05 204.97,283.21 202.64,283.36 200.00,283.50 197.10,283.64 194.02,283.76 190.73,283.86 187.19,283.96 183.37,284.05 179.26,284.14 174.81,284.22 170.00,284.30 164.72,284.38 158.96,284.45 152.82,284.51 146.40,284.57 139.80,284.63 133.14,284.68 126.50,284.74 120.00,284.80 113.21,284.87 105.84,284.94 98.22,285.01 90.67,285.08 83.52,285.15 77.07,285.21 71.66,285.26 67.60,285.30"/>
<polyline stroke="#00ffff" points="68.00,284.50 71.57,284.45 76.12,284.38 81.52,284.29 87.64,284.20 94.32,284.10 101.44,284.00 108.84,283.90 116.40,283.80 124.59,283.70 133.76,283.60 143.56,283.49 153.61,283.39 163.58,283.28 173.10,283.18 181.83,283.09 189.40,283.00 195.90,282.92 201.70,282.85 206.88,282.79 211.52,282.73 215.72,282.67 219.54,282.62 223.07,282.56 226.40,282.50 229.34,282.44 231.74,282.39 233.72,282.33 235.40,282.28 236.89,282.22 238.31,282.16 239.77,282.09 241.40,282.00 243.17,281.90 244.95,281.80 246.73,281.68 248.46,281.56 250.13,281.43 251.69,281.30 253.12,281.15 254.40,281.00 255.49,280.84 256.42,280.66 257.21,280.47 257.90,280.28 258.53,280.08 259.13,279.89 259.75,279.69 260.40,279.50 261.08,279.32 261.76,279.16 262.41,279.00 263.06,278.84 263.68,278.67 264.28,278.48 264.85,278.26 265.40,278.00 265.92,277.72 266.42,277.45 266.89,277.16 267.34,276.84 267.76,276.48 268.17,276.07 268.54,275.58 268.90,275.00 269.23,274.32 269.53,273.55 269.80,272.71 270.06,271.81 270.29,270.87 270.51,269.91 270.71,268.95 270.90,268.00 271.07,267.17 271.21,266.49 271.33,265.86 271.43,265.19 271.53,264.36 271.64,263.29 271.76,261.87 271.90,260.00 272.06,257.65 272.24,254.91 272.42,251.83 272.61,248.50 272.80,244.98 273.00,241.34 273.20,237.66 273.40,234.00 273.61,230.23 273.82,226.21 274.04,222.04 274.26,217.81 274.48,213.60 274.70,209.51 274.91,205.61 275.10,202.00 275.28,198.64 275.46,195.43 275.63,192.36 275.79,189.44 275.95,186.64 276.11,183.98 276.25,181.43 276.40,179.00 276.54,176.71 276.67,174.57 276.80,172.57 276.92,170.69 277.04,168.91 277.16,167.21 277.28,165.58 277.40,164.00 277.52,162.51 277.63,161.15 277.73,159.88 277.84,158.69 277.95,157.53 278.08,156.38 278.23,155.22 278.40,154.00 278.60,152.74 278.81,151.45 279.03,150.16 279.27,148.88 279.53,147.60 279.81,146.36 280.10,145.15 280.40,144.00 280.72,142.89 281.06,141.81 281.41,140.77 281.77,139.75 282.16,138.77 282.56,137.81 282.97,136.89 283.40,136.00 283.84,135.15 284.28,134.34 284.74,133.56 285.21,132.81 285.71,132.09 286.24,131.38 286.80,130.69 287.40,130.00 288.04,129.31 288.71,128.63 289.42,127.96 290.15,127.31 290.92,126.68 291.71,126.09 292.54,125.52 293.40,125.00 294.26,124.52 295.10,124.07 295.95,123.66 296.84,123.28 297.80,122.93 298.86,122.60 300.05,122.29 301.40,122.00 302.84,121.74 304.31,121.50 305.85,121.30 307.52,121.11 309.37,120.95 311.43,120.79 313.76,120.64 316.40,120.50 319.30,120.36 322.38,120.24 325.67,120.14 329.21,120.04 333.03,119.95 337.14,119.86 341.59,119.78 346.40,119.70 351.68,119.62 357.44,119.55 363.58,119.49 370.00,119.43 376.60,119.37 383.26,119.32 389.90,119.26 396.40,119.20 403.19,119.13 410.56,119.06 418.18,118.99 425.72,118.92 432.88,118.85 439.33,118.79 444.74,118.74 448.80,118.70"/>
</g>
<g fill="#fff"><rect x="273.4" y="213.1" width="3.4" height="1.8"/><rect x="279.9" y="211.6" width="3.4" height="6.9"/><rect x="287.4" y="213.0" width="3.4" height="1.2"/></g>
<path d="M67.3,40 V364.6 H448.1 V40" fill="none" stroke="#000" stroke-width="2"/><path d="M67.3,283.25h10M448.1,283.25h-10" stroke="#000" stroke-width="2"/><path d="M67.3,201.90h10M448.1,201.90h-10" stroke="#000" stroke-width="2"/><path d="M67.3,120.55h10M448.1,120.55h-10" stroke="#000" stroke-width="2"/><path d="M67.3,39.20h10M448.1,39.20h-10" stroke="#000" stroke-width="2"/><path d="M67.3,323.93h5M448.1,323.93h-5" stroke="#000" stroke-width="2"/><path d="M67.3,242.57h5M448.1,242.57h-5" stroke="#000" stroke-width="2"/><path d="M67.3,161.23h5M448.1,161.23h-5" stroke="#000" stroke-width="2"/><path d="M67.3,79.88h5M448.1,79.88h-5" stroke="#000" stroke-width="2"/><path d="M131.15,364.6v-10" stroke="#000" stroke-width="2"/><path d="M194.52,364.6v-10" stroke="#000" stroke-width="2"/><path d="M257.90,364.6v-10" stroke="#000" stroke-width="2"/><path d="M321.27,364.6v-10" stroke="#000" stroke-width="2"/><path d="M384.65,364.6v-10" stroke="#000" stroke-width="2"/><path d="M99.46,364.6v-5" stroke="#000" stroke-width="2"/><path d="M162.84,364.6v-5" stroke="#000" stroke-width="2"/><path d="M226.21,364.6v-5" stroke="#000" stroke-width="2"/><path d="M289.59,364.6v-5" stroke="#000" stroke-width="2"/><path d="M352.96,364.6v-5" stroke="#000" stroke-width="2"/><path d="M416.34,364.6v-5" stroke="#000" stroke-width="2"/>
<g font-family="'Liberation Sans', Arial, sans-serif" font-size="22" fill="#000"><text transform="translate(56.00,45.40) scale(1,1)" text-anchor="end">2</text><text transform="translate(56.00,126.75) scale(1,1)" text-anchor="end">1</text><text transform="translate(56.00,208.10) scale(1,1)" text-anchor="end">0</text><text transform="translate(56.00,289.45) scale(1,1)" text-anchor="end">−1</text><text transform="translate(56.00,370.80) scale(1,1)" text-anchor="end">−2</text><text transform="translate(67.77,393.30) scale(1,1)" text-anchor="middle">−1500</text><text transform="translate(131.15,393.30) scale(1,1)" text-anchor="middle">−1000</text><text transform="translate(194.52,393.30) scale(1,1)" text-anchor="middle">−500</text><text transform="translate(257.90,393.30) scale(1,1)" text-anchor="middle">0</text><text transform="translate(321.27,393.30) scale(1,1)" text-anchor="middle">500</text><text transform="translate(384.65,393.30) scale(1,1)" text-anchor="middle">1000</text><text transform="translate(448.02,393.30) scale(1,1)" text-anchor="middle">1500</text><text x="214.3" y="415.8" textLength="86.6" lengthAdjust="spacing">H [kA/m]</text><text transform="translate(22.5,201.3) rotate(-90)" text-anchor="middle">J [T]</text></g>
<rect x="66.5" y="7.8" width="403.4" height="51.1" fill="#fff" stroke="#5a5a5a" stroke-width="1.8"/><g font-family="'Liberation Sans', Arial, sans-serif" font-size="22" fill="#000" stroke="#000" stroke-width="0.25"><line x1="69" y1="21" x2="114.5" y2="21" stroke="#000000" stroke-width="2"/><text transform="translate(118.4,28.2) scale(0.9,1)" letter-spacing="1.3">100</text><text transform="translate(159.5,26.0) scale(0.9,1)">°</text><text transform="translate(181.7,28.2) scale(0.95,1)">C</text><line x1="196.2" y1="21" x2="242" y2="21" stroke="#ff0000" stroke-width="2"/><text transform="translate(246.8,28.2) scale(0.9,1)" letter-spacing="1.3">120</text><text transform="translate(287.9,26.0) scale(0.9,1)">°</text><text transform="translate(310.0,28.2) scale(0.95,1)">C</text><line x1="332" y1="21" x2="376.5" y2="21" stroke="#00ff00" stroke-width="2"/><text transform="translate(380.3,28.2) scale(0.9,1)" letter-spacing="1.3">140</text><text transform="translate(422.4,26.0) scale(0.9,1)">°</text><text transform="translate(444.8,28.2) scale(0.95,1)">C</text><line x1="69" y1="45.5" x2="114.5" y2="45.5" stroke="#0000ff" stroke-width="2"/><text transform="translate(118.4,52.5) scale(0.9,1)" letter-spacing="1.3">160</text><text transform="translate(159.5,50.3) scale(0.9,1)">°</text><text transform="translate(181.7,52.5) scale(0.95,1)">C</text><line x1="196.2" y1="45.5" x2="242" y2="45.5" stroke="#ff00ff" stroke-width="2"/><text transform="translate(246.8,52.5) scale(0.9,1)" letter-spacing="1.3">180</text><text transform="translate(287.9,50.3) scale(0.9,1)">°</text><text transform="translate(310.0,52.5) scale(0.95,1)">C</text><line x1="332" y1="45.5" x2="376.5" y2="45.5" stroke="#00ffff" stroke-width="2"/><text transform="translate(380.3,52.5) scale(0.9,1)" letter-spacing="1.3">200</text><text transform="translate(422.4,50.3) scale(0.9,1)">°</text><text transform="translate(444.8,52.5) scale(0.95,1)">C</text></g>
<rect x="336.8" y="146.5" width="207.2" height="210" fill="#fff" stroke="#000" stroke-width="2"/><line x1="435.17" y1="150.3" x2="435.17" y2="301.9" stroke="#828282" stroke-width="1.2"/><line x1="484.33" y1="150.3" x2="484.33" y2="301.9" stroke="#9c9c9c" stroke-width="1" stroke-dasharray="2,2.5"/><line x1="386" y1="284.65" x2="533.5" y2="284.65" stroke="#828282" stroke-width="1.2"/><line x1="386" y1="225.80" x2="533.5" y2="225.80" stroke="#828282" stroke-width="1.2"/><line x1="386" y1="166.95" x2="533.5" y2="166.95" stroke="#828282" stroke-width="1.2"/><line x1="386" y1="255.23" x2="533.5" y2="255.23" stroke="#b0b0b0" stroke-width="1" stroke-dasharray="2,2"/><line x1="386" y1="196.38" x2="533.5" y2="196.38" stroke="#b0b0b0" stroke-width="1" stroke-dasharray="2,2"/><g clip-path="url(#ci)" fill="none" stroke="#000" stroke-width="1.3"><polyline points="681.29,154.11 678.24,154.14 674.02,154.18 668.99,154.22 663.48,154.28 657.85,154.33 652.46,154.38 647.63,154.43 643.74,154.47 640.80,154.50 638.49,154.53 636.65,154.55 635.09,154.58 633.64,154.60 632.13,154.62 630.38,154.65 628.22,154.69 625.70,154.73 622.99,154.78 620.13,154.83 617.17,154.89 614.13,154.95 611.06,155.01 607.99,155.07 604.95,155.12 601.90,155.18 598.78,155.23 595.62,155.29 592.44,155.34 589.27,155.40 586.15,155.45 583.09,155.51 580.12,155.56 577.28,155.60 574.55,155.65 571.89,155.69 569.26,155.74 566.64,155.78 563.98,155.82 561.25,155.87 558.40,155.92 555.34,155.97 552.05,156.03 548.64,156.08 545.21,156.14 541.89,156.20 538.77,156.26 535.96,156.31 533.58,156.35 531.67,156.39 530.14,156.42 528.92,156.44 527.90,156.46 527.02,156.48 526.18,156.50 525.29,156.53 524.27,156.57 523.16,156.61 522.06,156.66 520.98,156.72 519.90,156.78 518.84,156.84 517.80,156.89 516.76,156.95 515.73,157.00 514.73,157.05 513.74,157.09 512.77,157.12 511.81,157.16 510.85,157.20 509.90,157.24 508.94,157.30 507.98,157.36 506.99,157.44 505.98,157.53 504.97,157.62 503.95,157.72 502.96,157.83 501.99,157.95 501.08,158.08 500.22,158.23 499.42,158.40 498.65,158.58 497.93,158.77 497.24,158.97 496.58,159.19 495.96,159.42 495.36,159.65 494.79,159.90 494.25,160.14 493.75,160.37 493.29,160.60 492.85,160.84 492.44,161.11 492.04,161.42 491.67,161.79 491.30,162.21 490.95,162.70 490.62,163.25 490.31,163.85 490.01,164.48 489.74,165.15 489.47,165.84 489.22,166.55 488.97,167.28 488.74,168.02 488.53,168.78 488.33,169.58 488.15,170.40 487.97,171.23 487.79,172.07 487.61,172.93 487.42,173.79 487.22,174.61 487.02,175.37 486.81,176.13 486.60,176.91 486.40,177.75 486.21,178.69 486.03,179.77 485.87,181.02 485.72,182.48 485.59,184.13 485.46,185.92 485.35,187.80 485.24,189.75 485.14,191.70 485.04,193.63 484.94,195.49 484.84,197.29 484.74,199.07 484.65,200.85 484.56,202.63 484.47,204.43 484.39,206.24 484.31,208.08 484.24,209.96 484.17,211.90 484.10,213.90 484.04,215.95 483.99,218.01 483.93,220.05 483.88,222.06 483.83,224.01 483.77,225.87 483.72,227.67 483.67,229.43 483.62,231.16 483.57,232.84 483.53,234.46 483.48,236.01 483.43,237.49 483.38,238.89 483.34,240.19 483.29,241.39 483.25,242.50 483.20,243.55 483.15,244.56 483.10,245.56 483.05,246.55 483.00,247.57 482.94,248.62 482.88,249.68 482.82,250.74 482.75,251.78 482.69,252.79 482.61,253.76 482.54,254.68 482.45,255.53 482.36,256.31 482.27,257.02 482.17,257.68 482.06,258.29 481.95,258.88 481.84,259.45 481.72,260.02 481.60,260.60 481.48,261.18 481.35,261.74 481.22,262.29 481.09,262.83 480.95,263.37 480.81,263.89 480.66,264.42 480.51,264.94 480.36,265.45 480.21,265.96 480.06,266.46 479.90,266.95 479.73,267.44 479.56,267.93 479.38,268.42 479.20,268.92 479.00,269.41 478.79,269.89 478.58,270.38 478.37,270.86 478.14,271.35 477.91,271.85 477.66,272.36 477.41,272.89 477.15,273.45 476.89,274.04 476.62,274.64 476.33,275.25 476.04,275.85 475.74,276.46 475.42,277.04 475.08,277.60 474.74,278.13 474.39,278.66 474.04,279.17 473.66,279.68 473.27,280.17 472.85,280.65 472.40,281.12 471.90,281.58 471.35,282.02 470.73,282.47 470.06,282.90 469.38,283.32 468.69,283.72 468.03,284.11 467.41,284.48 466.86,284.83 466.39,285.15 465.97,285.45 465.59,285.72 465.24,285.98 464.89,286.23 464.54,286.48 464.17,286.74 463.76,287.00 463.33,287.27 462.90,287.54 462.46,287.81 462.01,288.09 461.54,288.36 461.03,288.63 460.48,288.90 459.88,289.17 459.22,289.44 458.53,289.71 457.79,289.99 457.02,290.26 456.22,290.53 455.39,290.80 454.54,291.07 453.67,291.34 452.78,291.62 451.84,291.90 450.88,292.18 449.89,292.46 448.89,292.74 447.89,293.00 446.89,293.26 445.91,293.51 444.97,293.75 444.07,293.97 443.18,294.18 442.28,294.39 441.35,294.59 440.37,294.79 439.31,294.98 438.16,295.18 436.91,295.37 435.61,295.57 434.25,295.76 432.82,295.95 431.34,296.13 429.79,296.31 428.19,296.47 426.52,296.62 424.83,296.76 423.14,296.89 421.41,297.00 419.61,297.11 417.70,297.21 415.65,297.31 413.43,297.40 411.00,297.49 408.15,297.58 404.81,297.67 401.18,297.75 397.47,297.83 393.88,297.91 390.61,297.97 387.87,298.03 385.87,298.07"/><polyline points="385.48,297.64 388.53,297.61 392.74,297.57 397.78,297.52 403.29,297.47 408.91,297.41 414.31,297.36 419.13,297.31 423.03,297.27 425.97,297.24 428.28,297.21 430.12,297.19 431.68,297.17 433.13,297.15 434.64,297.12 436.38,297.09 438.54,297.06 441.07,297.01 443.78,296.96 446.64,296.91 449.60,296.85 452.64,296.79 455.71,296.74 458.78,296.68 461.82,296.62 464.87,296.57 467.99,296.51 471.15,296.46 474.33,296.40 477.49,296.35 480.62,296.29 483.68,296.24 486.64,296.19 489.49,296.14 492.22,296.09 494.88,296.05 497.50,296.01 500.13,295.96 502.79,295.92 505.52,295.87 508.36,295.83 511.43,295.77 514.72,295.72 518.13,295.66 521.55,295.60 524.88,295.54 528.00,295.49 530.81,295.44 533.19,295.39 535.10,295.36 536.63,295.33 537.85,295.31 538.86,295.28 539.75,295.26 540.59,295.24 541.48,295.21 542.50,295.18 543.61,295.13 544.71,295.08 545.79,295.03 546.86,294.97 547.92,294.91 548.97,294.85 550.01,294.79 551.03,294.74 552.04,294.70 553.03,294.66 554.00,294.62 554.96,294.59 555.92,294.55 556.87,294.50 557.83,294.45 558.79,294.38 559.78,294.30 560.78,294.22 561.80,294.13 562.81,294.03 563.81,293.92 564.77,293.80 565.69,293.66 566.55,293.51 567.35,293.35 568.11,293.17 568.84,292.97 569.53,292.77 570.19,292.55 570.81,292.33 571.41,292.09 571.98,291.85 572.52,291.61 573.02,291.38 573.48,291.15 573.92,290.90 574.33,290.63 574.72,290.32 575.10,289.96 575.47,289.53 575.82,289.04 576.15,288.49 576.46,287.90 576.75,287.26 577.03,286.59 577.30,285.90 577.55,285.19 577.80,284.47 578.03,283.73 578.24,282.96 578.44,282.17 578.62,281.35 578.80,280.52 578.98,279.67 579.16,278.82 579.35,277.96 579.55,277.14 579.75,276.37 579.96,275.62 580.16,274.84 580.36,274.00 580.56,273.06 580.74,271.98 580.90,270.72 581.05,269.26 581.18,267.62 581.30,265.83 581.42,263.94 581.53,262.00 581.63,260.04 581.73,258.11 581.83,256.26 581.93,254.46 582.03,252.67 582.12,250.89 582.21,249.11 582.29,247.32 582.38,245.51 582.45,243.67 582.53,241.79 582.60,239.85 582.66,237.84 582.72,235.80 582.78,233.74 582.84,231.69 582.89,229.68 582.94,227.73 582.99,225.87 583.05,224.08 583.10,222.31 583.15,220.59 583.19,218.91 583.24,217.29 583.29,215.73 583.33,214.25 583.38,212.85 583.43,211.55 583.48,210.36 583.52,209.25 583.57,208.19 583.61,207.18 583.66,206.19 583.71,205.19 583.77,204.17 583.83,203.12 583.89,202.06 583.95,201.01 584.01,199.96 584.08,198.95 584.15,197.98 584.23,197.06 584.31,196.21 584.40,195.44 584.50,194.73 584.60,194.07 584.71,193.45 584.82,192.87 584.93,192.30 585.05,191.73 585.17,191.15 585.29,190.57 585.42,190.00 585.55,189.45 585.68,188.91 585.82,188.38 585.96,187.85 586.10,187.33 586.25,186.81 586.40,186.29 586.56,185.79 586.71,185.29 586.87,184.80 587.03,184.31 587.20,183.82 587.38,183.32 587.57,182.83 587.77,182.34 587.97,181.85 588.18,181.37 588.40,180.88 588.63,180.40 588.86,179.90 589.10,179.38 589.36,178.85 589.62,178.29 589.88,177.71 590.15,177.11 590.43,176.50 590.72,175.89 591.03,175.29 591.35,174.71 591.68,174.15 592.03,173.61 592.37,173.09 592.73,172.57 593.10,172.07 593.50,171.58 593.92,171.10 594.37,170.63 594.86,170.17 595.42,169.72 596.04,169.28 596.70,168.85 597.39,168.43 598.08,168.02 598.74,167.63 599.36,167.26 599.91,166.91 600.38,166.59 600.80,166.29 601.18,166.02 601.53,165.76 601.87,165.51 602.22,165.26 602.60,165.01 603.01,164.74 603.44,164.47 603.87,164.20 604.31,163.93 604.76,163.66 605.23,163.39 605.74,163.12 606.29,162.84 606.89,162.57 607.54,162.30 608.24,162.03 608.98,161.76 609.75,161.49 610.55,161.22 611.38,160.95 612.23,160.67 613.09,160.40 613.99,160.13 614.93,159.85 615.89,159.57 616.88,159.29 617.88,159.01 618.88,158.74 619.87,158.48 620.85,158.23 621.80,158.00 622.70,157.78 623.59,157.56 624.49,157.36 625.42,157.15 626.40,156.96 627.46,156.76 628.61,156.57 629.85,156.37 631.16,156.18 632.52,155.99 633.94,155.80 635.43,155.61 636.97,155.44 638.58,155.27 640.25,155.12 641.94,154.98 643.63,154.86 645.36,154.74 647.16,154.63 649.07,154.53 651.12,154.44 653.34,154.34 655.76,154.25 658.62,154.16 661.96,154.08 665.59,153.99 669.30,153.91 672.89,153.84 676.16,153.77 678.89,153.72 680.90,153.68"/></g><rect x="386" y="150.3" width="147.5" height="151.6" fill="none" stroke="#222" stroke-width="1.1"/><path d="M386,284.65h4M533.5,284.65h-4" stroke="#222" stroke-width="1.2"/><path d="M386,225.80h4M533.5,225.80h-4" stroke="#222" stroke-width="1.2"/><path d="M386,166.95h4M533.5,166.95h-4" stroke="#222" stroke-width="1.2"/><path d="M386,255.23h2.5M533.5,255.23h-2.5" stroke="#222" stroke-width="1.2"/><path d="M386,196.38h2.5M533.5,196.38h-2.5" stroke="#222" stroke-width="1.2"/><path d="M435.17,301.9v-6M435.17,150.3v2.5" stroke="#222" stroke-width="1.2"/><path d="M484.33,301.9v-2.5M484.33,150.3v2" stroke="#222" stroke-width="1.2"/><line x1="449.2" y1="199.2" x2="483.3" y2="225.5" stroke="#000" stroke-width="2"/><line x1="420.1" y1="267.7" x2="409" y2="292.8" stroke="#000" stroke-width="2"/><circle cx="483.3" cy="225.5" r="4.1" fill="#000"/><circle cx="409" cy="292.8" r="4.1" fill="#000"/><g font-family="'Liberation Sans', Arial, sans-serif" fill="#000"><g font-size="22"><text x="382.5" y="173.45" text-anchor="end">1</text><text x="382.5" y="231.40" text-anchor="end">0</text><text x="382.5" y="290.65" text-anchor="end">−1</text><text x="435.17" y="327.2" text-anchor="middle">−1000</text><text x="533.2" y="327.2" text-anchor="middle">0</text><text x="459.6" y="347" text-anchor="middle">H [kA/m]</text><text transform="translate(360.2,225.5) rotate(-90)"><tspan x="-20.1">J</tspan> <tspan x="-4.3">[T]</tspan></text><text x="416.8" y="193.6" font-size="23">H</text><text x="400.7" y="259.2" font-size="23">H</text></g><text x="434.4" y="199.1" font-size="16" letter-spacing="2">cj</text><text x="417.6" y="263.2" font-size="16" letter-spacing="0.5">sat</text></g>
</g>
</svg>
</body></html>
